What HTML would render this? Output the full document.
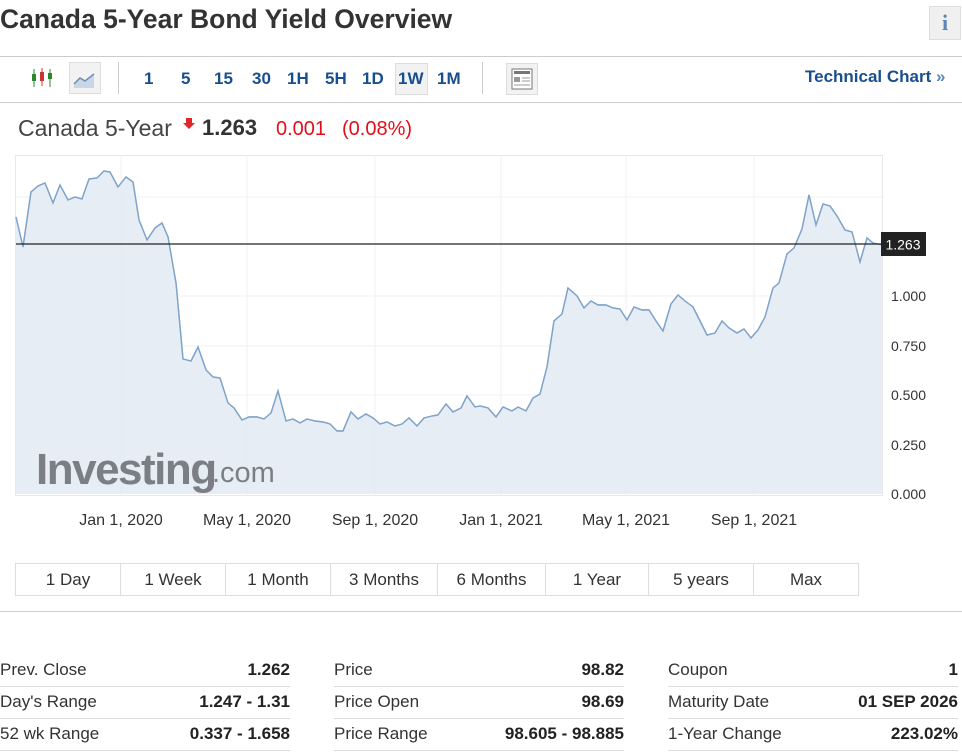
<!DOCTYPE html>
<html><head><meta charset="utf-8"><style>
*{margin:0;padding:0;box-sizing:border-box}
body{width:962px;height:752px;background:#fff;font-family:"Liberation Sans",Arial,sans-serif;color:#333;position:relative;overflow:hidden}
.a{position:absolute}
.tb{font-size:17px;font-weight:bold;color:#1a4f8f}
.rb{position:absolute;top:563px;height:33px;border:1px solid #ddd;font-size:17px;color:#333;text-align:center;line-height:31px}
.row{position:absolute;height:32px;border-bottom:1px solid #ddd;font-size:17px;line-height:30px}
.row b{position:absolute;right:0;top:0;color:#222}
</style></head><body>
<div class="a" style="left:0;top:4px;font-size:26.5px;font-weight:bold;color:#333">Canada 5-Year Bond Yield Overview</div>
<div class="a" style="left:929px;top:6px;width:32px;height:34px;background:#f0f0f0;border:1px solid #ddd;color:#5a86b8;font-size:22px;text-align:center;line-height:32px;font-family:'Liberation Serif',serif;font-weight:bold">i</div>
<div class="a" style="left:0;top:56px;width:962px;height:1px;background:#ccc"></div>
<div class="a" style="left:0;top:102px;width:962px;height:1px;background:#ccc"></div>
<svg class="a" style="left:30px;top:66px" width="24" height="24"><line x1="4" y1="3" x2="4" y2="21" stroke="#2a8a2a"/><rect x="2" y="8" width="4" height="7" fill="#2a8a2a"/><line x1="12" y1="2" x2="12" y2="20" stroke="#c33"/><rect x="10" y="6" width="4" height="9" fill="#c33"/><line x1="20" y1="3" x2="20" y2="21" stroke="#2a8a2a"/><rect x="18" y="7" width="4" height="6" fill="#2a8a2a"/></svg>
<div class="a" style="left:69px;top:62px;width:32px;height:32px;background:#f2f2f2;border:1px solid #ddd"></div>
<svg class="a" style="left:72px;top:66px" width="26" height="24"><path d="M2 18 L8 12 L13 15 L22 8 L22 22 L2 22Z" fill="#c8d6e6"/><path d="M2 18 L8 12 L13 15 L22 8" stroke="#6d8fb5" fill="none" stroke-width="1.5"/></svg>
<div class="a" style="left:118px;top:62px;width:1px;height:32px;background:#ccc"></div>
<div class="a tb" style="left:144px;top:69px">1</div>
<div class="a tb" style="left:181px;top:69px">5</div>
<div class="a tb" style="left:214px;top:69px">15</div>
<div class="a tb" style="left:252px;top:69px">30</div>
<div class="a tb" style="left:287px;top:69px">1H</div>
<div class="a tb" style="left:325px;top:69px">5H</div>
<div class="a tb" style="left:362px;top:69px">1D</div>
<div class="a" style="left:395px;top:63px;width:33px;height:32px;background:#f2f2f2;border:1px solid #ddd"></div>
<div class="a tb" style="left:398px;top:69px">1W</div>
<div class="a tb" style="left:437px;top:69px">1M</div>
<div class="a" style="left:482px;top:62px;width:1px;height:32px;background:#ccc"></div>
<div class="a" style="left:506px;top:63px;width:32px;height:32px;background:#f2f2f2;border:1px solid #ddd"></div>
<svg class="a" style="left:511px;top:68px" width="22" height="22"><rect x="1" y="1" width="20" height="20" fill="#fff" stroke="#777"/><rect x="3" y="3" width="16" height="3" fill="#777"/><rect x="3" y="9" width="6" height="5" fill="#999"/><line x1="11" y1="10" x2="19" y2="10" stroke="#999"/><line x1="11" y1="13" x2="19" y2="13" stroke="#999"/><line x1="3" y1="17" x2="19" y2="17" stroke="#999"/></svg>
<div class="a tb" style="left:805px;top:67px;font-size:17px">Technical Chart <span style="color:#5a86b8">»</span></div>
<div class="a" style="left:18px;top:115px;font-size:23px;color:#444">Canada 5-Year</div>
<svg class="a" style="left:183px;top:118px" width="12" height="12"><path d="M3 0h6v5h3L6 11 0 5h3z" fill="#e0262a"/></svg>
<div class="a" style="left:202px;top:115px;font-size:22px;font-weight:bold;color:#333">1.263</div>
<div class="a" style="left:276px;top:118px;font-size:20px;color:#e0101a">0.001</div>
<div class="a" style="left:342px;top:118px;font-size:20px;color:#e0101a">(0.08%)</div>
<svg class="a" style="left:0;top:150px" width="962" height="380">
<rect x="15.5" y="5.5" width="867" height="340" fill="#fff" stroke="#e8e8e8"/>
<g stroke="#f0f2f5">
<line x1="15" y1="295" x2="882" y2="295"/><line x1="15" y1="245" x2="882" y2="245"/><line x1="15" y1="196" x2="882" y2="196"/><line x1="15" y1="146" x2="882" y2="146"/><line x1="15" y1="47" x2="882" y2="47"/>
<line x1="121" y1="5" x2="121" y2="345"/><line x1="247" y1="5" x2="247" y2="345"/><line x1="375" y1="5" x2="375" y2="345"/><line x1="501" y1="5" x2="501" y2="345"/><line x1="626" y1="5" x2="626" y2="345"/><line x1="754" y1="5" x2="754" y2="345"/>
</g>
<g transform="translate(0,-150)">
<path id="p" d="M16 217L23 247L31 192L38 186L45 183L53 203L60 185L68 200L75 197L82 199L89 179L97 178L104 171L110 172L118 187L126 177L133 182L139 220L147 240L155 228L162 223L168 237L176 283L183 359L191 361L198 347L206 370L213 377L220 378L228 403L234 408L242 420L249 417L257 417L264 419L271 413L278 391L286 421L293 419L300 423L307 419L315 421L323 422L330 424L337 431L343 431L351 412L358 419L366 414L373 418L380 424L387 422L395 426L402 424L409 418L417 426L424 418L432 416L438 415L446 404L453 412L461 408L467 396L475 407L480 406L488 408L496 417L503 407L512 411L518 407L526 411L533 398L540 394L547 367L554 321L562 314L568 288L577 296L584 308L591 301L598 305L606 305L613 308L620 309L627 320L634 307L642 310L649 310L656 321L663 331L671 304L678 295L685 301L693 307L700 321L707 335L715 333L722 321L729 328L737 333L744 329L751 338L758 330L765 317L773 288L779 283L787 254L794 248L802 229L809 195L816 225L823 204L830 206L837 216L845 230L852 232L860 262L867 238L873 243L882 245" fill="none" stroke="#7fa3c9" stroke-width="1.4"/>
<path d="M16 217L23 247L31 192L38 186L45 183L53 203L60 185L68 200L75 197L82 199L89 179L97 178L104 171L110 172L118 187L126 177L133 182L139 220L147 240L155 228L162 223L168 237L176 283L183 359L191 361L198 347L206 370L213 377L220 378L228 403L234 408L242 420L249 417L257 417L264 419L271 413L278 391L286 421L293 419L300 423L307 419L315 421L323 422L330 424L337 431L343 431L351 412L358 419L366 414L373 418L380 424L387 422L395 426L402 424L409 418L417 426L424 418L432 416L438 415L446 404L453 412L461 408L467 396L475 407L480 406L488 408L496 417L503 407L512 411L518 407L526 411L533 398L540 394L547 367L554 321L562 314L568 288L577 296L584 308L591 301L598 305L606 305L613 308L620 309L627 320L634 307L642 310L649 310L656 321L663 331L671 304L678 295L685 301L693 307L700 321L707 335L715 333L722 321L729 328L737 333L744 329L751 338L758 330L765 317L773 288L779 283L787 254L794 248L802 229L809 195L816 225L823 204L830 206L837 216L845 230L852 232L860 262L867 238L873 243L882 245L882 494L16 494Z" fill="#dde7f1" fill-opacity="0.75"/>
<use href="#p"/>
<line x1="16" y1="244" x2="882" y2="244" stroke="#222" stroke-width="1.3"/>
<rect x="881" y="232" width="45" height="24" fill="#222"/>
<text x="903" y="249.5" fill="#fff" font-size="14" text-anchor="middle" font-family="Liberation Sans">1.263</text>
<text x="36" y="484" font-size="44" font-weight="bold" fill="#7b7f85" font-family="Liberation Sans" letter-spacing="-1.5">Investing</text>
<text x="212" y="482" font-size="29" fill="#7b7f85" font-family="Liberation Sans">.com</text>
<g font-size="14" fill="#333" font-family="Liberation Sans" text-anchor="end">
<text x="926" y="301">1.000</text><text x="926" y="351">0.750</text><text x="926" y="400">0.500</text><text x="926" y="450">0.250</text><text x="926" y="499">0.000</text>
</g>
<g font-size="16" fill="#333" font-family="Liberation Sans" text-anchor="middle">
<text x="121" y="525">Jan 1, 2020</text><text x="247" y="525">May 1, 2020</text><text x="375" y="525">Sep 1, 2020</text><text x="501" y="525">Jan 1, 2021</text><text x="626" y="525">May 1, 2021</text><text x="754" y="525">Sep 1, 2021</text>
</g>
</g>
</svg>
<div class="rb" style="left:15px;width:106px">1 Day</div>
<div class="rb" style="left:120px;width:106px">1 Week</div>
<div class="rb" style="left:225px;width:106px">1 Month</div>
<div class="rb" style="left:330px;width:108px">3 Months</div>
<div class="rb" style="left:437px;width:109px">6 Months</div>
<div class="rb" style="left:545px;width:104px">1 Year</div>
<div class="rb" style="left:648px;width:106px">5 years</div>
<div class="rb" style="left:753px;width:106px">Max</div>
<div class="a" style="left:0;top:611px;width:962px;height:1px;background:#ccc"></div>
<div class="row" style="left:0;top:655px;width:290px">Prev. Close<b>1.262</b></div>
<div class="row" style="left:0;top:687px;width:290px">Day's Range<b>1.247 - 1.31</b></div>
<div class="row" style="left:0;top:719px;width:290px">52 wk Range<b>0.337 - 1.658</b></div>
<div class="row" style="left:334px;top:655px;width:290px">Price<b>98.82</b></div>
<div class="row" style="left:334px;top:687px;width:290px">Price Open<b>98.69</b></div>
<div class="row" style="left:334px;top:719px;width:290px">Price Range<b>98.605 - 98.885</b></div>
<div class="row" style="left:668px;top:655px;width:290px">Coupon<b>1</b></div>
<div class="row" style="left:668px;top:687px;width:290px">Maturity Date<b>01 SEP 2026</b></div>
<div class="row" style="left:668px;top:719px;width:290px">1-Year Change<b>223.02%</b></div>
</body></html>
